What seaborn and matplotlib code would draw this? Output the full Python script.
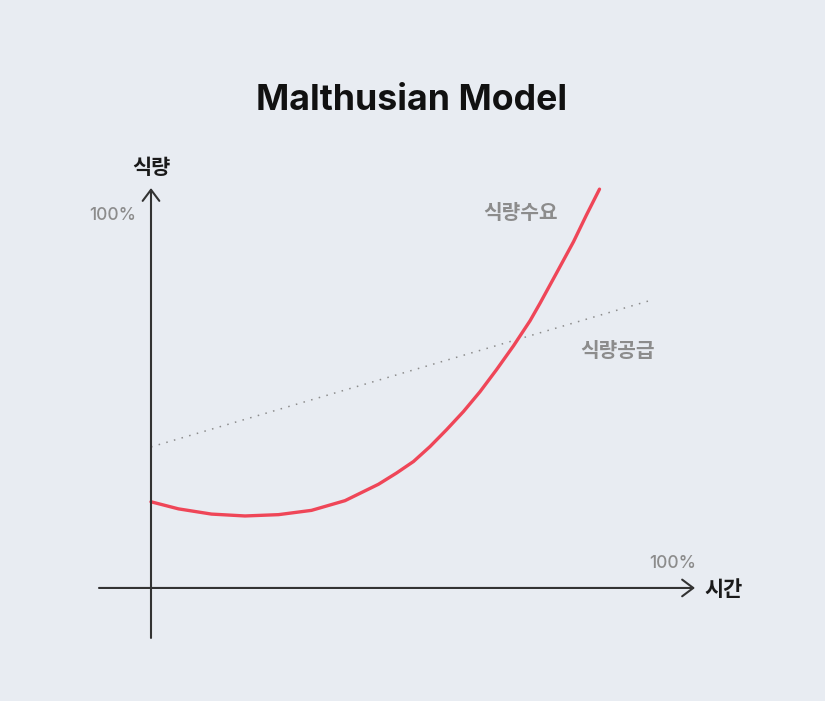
import matplotlib
matplotlib.use("Agg")
import matplotlib.pyplot as plt
import seaborn as sns
import pandas as pd

# ---- data ----
demand_x = [0, 5.5, 12.1, 18.8, 25.5, 32.1, 38.8, 45.5, 49.1, 52.5, 55.8, 59.1,
            62.5, 65.8, 69.1, 72.5, 75.8, 77.8, 81.1, 84.5, 87.1, 89.7]
demand_y = [23.1, 21.2, 19.8, 19.3, 19.65, 20.8, 23.4, 27.8, 30.8, 33.9, 37.9, 42.4,
            47.3, 52.6, 58.5, 64.9, 71.6, 76.3, 84.4, 92.8, 100.0, 106.9]
supply_x = [0, 100.2]
supply_y = [37.8, 77.2]

title = "Malthusian Model"
y_label = "식량"
x_label = "시간"
demand_label = "식량수요"
supply_label = "식량공급"
max_label = "100%"

BG = "#e8ecf2"
RED = "#ef4658"
GRAY = "#8c8c8c"
AXIS = "#333333"

sns.set_theme(style="white")
plt.rcParams['font.family'] = ['Noto Sans CJK KR', 'DejaVu Sans']

fig = plt.figure(figsize=(8.25, 7.01), dpi=100, facecolor=BG)
ax = fig.add_axes([0, 0, 1, 1])
ax.set_facecolor(BG)
ax.set_xlim(-30.2, 134.8)
ax.set_ylim(-30.3, 157.6)
ax.axis('off')

demand = pd.DataFrame({"x": demand_x, "y": demand_y})
supply = pd.DataFrame({"x": supply_x, "y": supply_y})

sns.lineplot(data=supply, x="x", y="y", ax=ax, color=GRAY, lw=1.1,
             linestyle=(0, (1, 4.2)), sort=False)
sns.lineplot(data=demand, x="x", y="y", ax=ax, color=RED, lw=2.4,
             sort=False, solid_capstyle='round', solid_joinstyle='round')

# axes with arrows
arrow = dict(arrowstyle='->,head_length=0.4,head_width=0.3', lw=1.5,
             color=AXIS, shrinkA=0, shrinkB=0, mutation_scale=20)
ax.annotate('', xy=(108.8, 0), xytext=(-10.4, 0), arrowprops=arrow)
ax.annotate('', xy=(0, 107.2), xytext=(0, -13.4), arrowprops=arrow)

def ft(px, py, s, **kw):
    fig.text(px / 825, 1 - py / 701, s, ha='center', va='center', **kw)

ft(412, 100, title, fontsize=25.7, fontweight='bold', color='#111111',
   family=['Inter', 'DejaVu Sans'])
ft(151, 167, y_label, fontsize=15, fontweight='bold', color='#1a1a1a')
ft(724, 589, x_label, fontsize=15, fontweight='bold', color='#1a1a1a')
ft(113, 215, max_label, fontsize=12.5, fontweight='medium', color=GRAY,
   family=['Inter', 'DejaVu Sans'])
ft(673, 563, max_label, fontsize=12.5, fontweight='medium', color=GRAY,
   family=['Inter', 'DejaVu Sans'])
ft(520, 212, demand_label, fontsize=14.6, fontweight='bold', color=GRAY)
ft(617, 350, supply_label, fontsize=14.6, fontweight='bold', color=GRAY)

fig.savefig("out.png", dpi=100, facecolor=BG)
